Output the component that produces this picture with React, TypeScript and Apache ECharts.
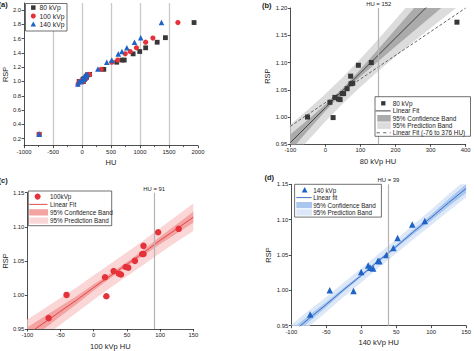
import React, { useEffect, useRef } from 'react';
import * as echarts from 'echarts';

const FONT = 'Arial, "Liberation Sans", Helvetica, sans-serif';
const FS_TICK = 5.9;
const FS_NAME = 7.5;

// ---------- Panel (a): all materials ----------
const a80: number[][] = [
  [-740, 0.26], [-51, 1.0], [22, 0.999], [13, 1.027], [27, 1.036], [37, 1.033], [42, 1.032],
  [48, 1.043], [52, 1.043], [62, 1.052], [73, 1.061], [78, 1.062], [72, 1.075], [94, 1.095],
  [131, 1.1], [375, 1.17], [598, 1.27], [688, 1.3], [728, 1.3], [881, 1.387], [995, 1.42],
  [1097, 1.472], [1296, 1.55], [1438, 1.614], [1932, 1.826],
];
const a100: number[][] = [
  [-740, 0.26], [-68, 0.966], [-41, 1.0], [19, 0.998], [17, 1.026], [30, 1.035], [38, 1.031],
  [41, 1.03], [48, 1.041], [52, 1.04], [62, 1.05], [73, 1.06], [75, 1.072], [97, 1.092],
  [128, 1.097], [330, 1.17], [513, 1.27], [615, 1.3], [745, 1.387], [830, 1.42], [938, 1.472],
  [1097, 1.55], [1222, 1.608], [1654, 1.826],
];
const a140: number[][] = [
  [-740, 0.26], [-73, 0.966], [-45, 1.0], [-11, 0.999], [0, 1.026], [10, 1.035], [13, 1.032],
  [17, 1.031], [24, 1.042], [26, 1.041], [36, 1.05], [46, 1.06], [52, 1.074], [73, 1.093],
  [91, 1.098], [274, 1.175], [427, 1.27], [513, 1.3], [625, 1.387], [688, 1.42], [773, 1.472],
  [904, 1.55], [1012, 1.614], [1370, 1.826],
];
const aYTicks = [0.2, 0.4, 0.6, 0.8, 1.0, 1.2, 1.4, 1.6, 1.8, 2.0];

// ---------- Panel (b): 80 kVp ----------
const b80: number[][] = [
  [-51, 1.0], [22, 0.999], [13, 1.027], [27, 1.036], [37, 1.033], [42, 1.032], [48, 1.043],
  [52, 1.043], [62, 1.052], [73, 1.061], [78, 1.062], [72, 1.075], [94, 1.095], [131, 1.1],
  [375, 1.174],
];
const bBandX = [-100, -50, 0, 50, 100, 150, 200, 250, 300, 350, 400];
const bFitY = [0.953, 0.985, 1.017, 1.049, 1.081, 1.113, 1.145, 1.177, 1.209, 1.241, 1.273];
const bConfHalf = [0.0148, 0.0102, 0.006, 0.0041, 0.0068, 0.0111, 0.0158, 0.0206, 0.0254, 0.0303, 0.0351];
const bPredHalf = [0.0328, 0.0283, 0.0253, 0.0243, 0.0257, 0.0291, 0.0339, 0.0395, 0.0458, 0.0524, 0.0592];
const bDashX = [-100, 400];
const bDashY = [0.983, 1.2];
const bCutoffHU = 152;

// ---------- Panel (c): 100 kVp ----------
const c100: number[][] = [
  [-68, 0.966], [-41, 1.0], [19, 0.998], [17, 1.026], [30, 1.035], [38, 1.031], [41, 1.03],
  [48, 1.041], [52, 1.04], [62, 1.05], [73, 1.06], [75, 1.06], [75, 1.072], [97, 1.092],
  [128, 1.097],
];
const cBandX = [-100, -75, -50, -25, 0, 25, 50, 75, 100, 125, 150];
const cFitY = [0.942, 0.959, 0.976, 0.993, 1.011, 1.028, 1.045, 1.062, 1.08, 1.097, 1.114];
const cConfHalf = [0.0106, 0.0089, 0.0073, 0.0058, 0.0045, 0.0036, 0.0034, 0.004, 0.0052, 0.0067, 0.0082];
const cPredHalf = [0.0219, 0.0206, 0.0195, 0.0186, 0.018, 0.0176, 0.0176, 0.0178, 0.0183, 0.0191, 0.0201];
const cCutoffHU = 91;

// ---------- Panel (d): 140 kVp ----------
const d140: number[][] = [
  [-73, 0.966], [-45, 1.0], [-11, 0.999], [0, 1.026], [10, 1.035], [13, 1.032], [17, 1.031],
  [24, 1.042], [26, 1.041], [36, 1.05], [46, 1.06], [52, 1.074], [73, 1.093], [91, 1.098],
];
const dBandX = [-100, -75, -50, -25, 0, 25, 50, 75, 100, 125, 150];
const dFitY = [0.939, 0.96, 0.98, 1.001, 1.021, 1.042, 1.062, 1.083, 1.103, 1.124, 1.144];
const dConfHalf = [0.0056, 0.0046, 0.0036, 0.0027, 0.002, 0.0019, 0.0023, 0.0032, 0.0041, 0.0051, 0.0062];
const dPredHalf = [0.0122, 0.0114, 0.0107, 0.0102, 0.0099, 0.0098, 0.01, 0.0104, 0.011, 0.0118, 0.0127];
const dCutoffHU = 39;

// ---------- colours ----------
const C_BLACK = '#383838';
const C_RED = '#e5323a';
const C_BLUE = '#1f63c6';

const zip = (xs: number[], ys: number[]) => xs.map((x, i) => [x, ys[i]]);

function xAx(grid: number, min: number, max: number, interval: number, name: string, gap: number, extra: any = {}) {
  return {
    type: 'value', gridIndex: grid, min, max, interval, name,
    nameLocation: 'middle', nameGap: gap,
    nameTextStyle: { fontSize: FS_NAME, color: '#222', fontFamily: FONT },
    axisLine: { show: true, onZero: false, lineStyle: { color: '#222', width: 0.8 } },
    axisTick: { show: true, length: 2.5, lineStyle: { color: '#222', width: 0.8 } },
    axisLabel: { fontSize: FS_TICK, color: '#222', margin: 3, fontFamily: FONT, formatter: (v: number) => String(v) },
    splitLine: { show: false },
    ...extra,
  };
}

function yAx(grid: number, min: number, max: number, interval: number, gap: number, digits: number, extra: any = {}) {
  return {
    type: 'value', gridIndex: grid, min, max, interval, name: 'RSP',
    nameLocation: 'middle', nameGap: gap, nameRotate: 90,
    nameTextStyle: { fontSize: FS_NAME, color: '#222', fontFamily: FONT },
    axisLine: { show: true, onZero: false, lineStyle: { color: '#222', width: 0.8 } },
    axisTick: { show: true, length: 2.5, lineStyle: { color: '#222', width: 0.8 } },
    axisLabel: { fontSize: FS_TICK, color: '#222', margin: 3, fontFamily: FONT, formatter: (v: number) => v.toFixed(digits) },
    splitLine: { show: false },
    ...extra,
  };
}

function band(idx: number, xs: number[], center: number[], half: number[], color: string, z: number) {
  return {
    type: 'custom', xAxisIndex: idx, yAxisIndex: idx, clip: true, silent: true, z,
    data: [[xs[0], center[0]]],
    renderItem: (_p: any, api: any) => {
      const up = xs.map((x, i) => api.coord([x, center[i] + half[i]]));
      const lo = xs.map((x, i) => api.coord([x, center[i] - half[i]])).reverse();
      return { type: 'polygon', shape: { points: up.concat(lo) }, style: { fill: color } };
    },
  };
}

function cutLine(hu: number) {
  return {
    silent: true, symbol: ['none', 'none'],
    lineStyle: { color: '#b4b4b4', width: 1.2, type: 'solid' },
    label: { show: true, position: 'end', formatter: 'HU = ' + hu, fontSize: 5.9, color: '#222', distance: 1, fontFamily: FONT },
    data: [{ xAxis: hu }],
  };
}

function txt(x: number, y: number, text: string, fs: number, extra: any = {}) {
  return {
    type: 'text', x, y, z: 100, silent: true,
    style: { text, fontSize: fs, fontFamily: FONT, fill: '#222', align: 'left', verticalAlign: 'middle', textAlign: 'left', textVerticalAlign: 'middle', ...extra },
  };
}
function box(x: number, y: number, w: number, h: number) {
  return { type: 'rect', z: 99, silent: true, shape: { x, y, width: w, height: h }, style: { fill: '#fff', stroke: '#333', lineWidth: 0.7 } };
}
function sq(cx: number, cy: number, s: number, color: string) {
  return { type: 'rect', z: 100, silent: true, shape: { x: cx - s / 2, y: cy - s / 2, width: s, height: s }, style: { fill: color } };
}
function circ(cx: number, cy: number, r: number, color: string) {
  return { type: 'circle', z: 100, silent: true, shape: { cx, cy, r }, style: { fill: color } };
}
function tri(cx: number, cy: number, s: number, color: string) {
  return { type: 'polygon', z: 100, silent: true, shape: { points: [[cx, cy - s * 0.55], [cx + s * 0.5, cy + s * 0.4], [cx - s * 0.5, cy + s * 0.4]] }, style: { fill: color } };
}
function seg(x1: number, x2: number, y: number, color: string, w: number, dash?: number[]) {
  return { type: 'line', z: 100, silent: true, shape: { x1, y1: y, x2, y2: y }, style: { stroke: color, lineWidth: w, lineDash: dash } };
}
function patch(x: number, y: number, w: number, h: number, color: string) {
  return { type: 'rect', z: 100, silent: true, shape: { x, y, width: w, height: h }, style: { fill: color } };
}

const B_PRED = '#dcdcdc', B_CONF = '#ababab';
const C_PRED = '#fbd6d6', C_CONF = '#f4a3a3';
const D_PRED = '#dce8f8', D_CONF = '#a9c6ee';

const option: any = {
  animation: false,
  backgroundColor: '#fff',
  textStyle: { fontFamily: FONT },
  grid: [
    { left: 22, top: 3, width: 176, height: 142.7 },
    { left: 290.3, top: 8, width: 175.4, height: 136.3 },
    { left: 23.3, top: 192.7, width: 170, height: 136.3 },
    { left: 291.3, top: 184.3, width: 175.7, height: 141.4 },
  ],
  xAxis: [
    xAx(0, -1000, 2000, 500, 'HU', 13, {
      minorTick: { show: true, splitNumber: 2, length: 1.5, lineStyle: { color: '#222', width: 0.7 } },
      splitLine: { show: true, showMinLine: false, showMaxLine: false, lineStyle: { color: '#c9c9c9', width: 1.3 } },
    }),
    xAx(1, -100, 400, 100, '80 kVp HU', 13),
    xAx(2, -100, 150, 50, '100 kVp HU', 13),
    xAx(3, -100, 150, 50, '140 kVp HU', 13),
  ],
  yAxis: [
    yAx(0, 0.1, 2.1, 0.2, 11, 1, {
      axisLabel: { fontSize: FS_TICK, color: '#222', margin: 3, fontFamily: FONT, customValues: aYTicks, formatter: (v: number) => v.toFixed(1) },
      axisTick: { show: true, length: 2.5, customValues: aYTicks, lineStyle: { color: '#222', width: 0.8 } },
    }),
    yAx(1, 0.95, 1.2, 0.05, 16, 2),
    yAx(2, 0.95, 1.15, 0.05, 14, 2),
    yAx(3, 0.95, 1.15, 0.05, 19, 2),
  ],
  series: [
    // (a)
    { type: 'scatter', name: '80 kVp', xAxisIndex: 0, yAxisIndex: 0, data: a80, symbol: 'rect', symbolSize: 4.8, itemStyle: { color: C_BLACK, opacity: 1 }, z: 4 },
    { type: 'scatter', name: '100 kVp', xAxisIndex: 0, yAxisIndex: 0, data: a100, symbol: 'circle', symbolSize: 5.2, itemStyle: { color: C_RED, opacity: 1 }, z: 5 },
    { type: 'scatter', name: '140 kVp', xAxisIndex: 0, yAxisIndex: 0, data: a140, symbol: 'triangle', symbolSize: 5.6, itemStyle: { color: C_BLUE, opacity: 1 }, z: 6 },

    // (b)
    band(1, bBandX, bFitY, bPredHalf, B_PRED, 1),
    band(1, bBandX, bFitY, bConfHalf, B_CONF, 2),
    { type: 'line', name: 'Linear Fit', xAxisIndex: 1, yAxisIndex: 1, data: zip(bBandX, bFitY), symbol: 'none', lineStyle: { color: '#333', width: 0.9 }, z: 3, markLine: cutLine(bCutoffHU) },
    { type: 'line', name: 'Linear Fit (-76 to 376 HU)', xAxisIndex: 1, yAxisIndex: 1, data: zip(bDashX, bDashY), symbol: 'none', lineStyle: { color: '#555', width: 0.9, type: [3, 2] }, z: 3 },
    { type: 'scatter', name: '80 kVp', xAxisIndex: 1, yAxisIndex: 1, data: b80, symbol: 'rect', symbolSize: 5, itemStyle: { color: C_BLACK, opacity: 1 }, z: 4 },

    // (c)
    band(2, cBandX, cFitY, cPredHalf, C_PRED, 1),
    band(2, cBandX, cFitY, cConfHalf, C_CONF, 2),
    { type: 'line', name: 'Linear Fit', xAxisIndex: 2, yAxisIndex: 2, data: zip(cBandX, cFitY), symbol: 'none', lineStyle: { color: '#e03a3a', width: 0.9 }, z: 3, markLine: cutLine(cCutoffHU) },
    { type: 'scatter', name: '100kVp', xAxisIndex: 2, yAxisIndex: 2, data: c100, symbol: 'circle', symbolSize: 6.5, itemStyle: { color: C_RED, opacity: 1 }, z: 4 },

    // (d)
    band(3, dBandX, dFitY, dPredHalf, D_PRED, 1),
    band(3, dBandX, dFitY, dConfHalf, D_CONF, 2),
    { type: 'line', name: 'Linear fit', xAxisIndex: 3, yAxisIndex: 3, data: zip(dBandX, dFitY), symbol: 'none', lineStyle: { color: '#2a62c4', width: 0.9 }, z: 3, markLine: cutLine(dCutoffHU) },
    { type: 'scatter', name: '140 kVp', xAxisIndex: 3, yAxisIndex: 3, data: d140, symbol: 'triangle', symbolSize: 6.5, itemStyle: { color: C_BLUE, opacity: 1 }, z: 4 },
  ],
  graphic: [
    // panel letters
    txt(-1.5, 4.5, '(a)', 7.5, { fontWeight: 'bold' }),
    txt(262, 5, '(b)', 7.5, { fontWeight: 'bold' }),
    txt(-1.5, 180, '(c)', 7.5, { fontWeight: 'bold' }),
    txt(264.5, 177.3, '(d)', 7.5, { fontWeight: 'bold' }),

    // legend (a)
    box(25.5, 3.5, 41.5, 27.5),
    sq(33.3, 7.6, 4.5, C_BLACK), txt(39.5, 7.6, '80 kVp', 6.8),
    circ(33.3, 16, 2.5, C_RED), txt(39.5, 16, '100 kVp', 6.8),
    tri(33.3, 24.4, 5.5, C_BLUE), txt(39.5, 24.4, '140 kVp', 6.8),

    // legend (b)
    box(375, 96.7, 95.5, 39.6),
    sq(383.3, 103.3, 4.3, C_BLACK), txt(392.7, 103.3, '80 kVp', 6.4),
    seg(375.5, 390.7, 110.9, '#333', 0.9), txt(392.7, 110.9, 'Linear Fit', 6.4),
    patch(377.3, 115, 13.4, 6.6, B_CONF), txt(392.7, 118.3, '95% Confidence Band', 6.4),
    patch(377.3, 122.3, 13.4, 6.6, B_PRED), txt(392.7, 125.6, '95% Prediction Band', 6.4),
    seg(376.5, 390.7, 132.8, '#555', 0.9, [3.3, 3.3]), txt(392.7, 132.8, 'Linear Fit (-76 to 376 HU)', 6.4),

    // legend (c)
    box(28.3, 191, 83.4, 34.7),
    circ(37.6, 196.6, 3, C_RED), txt(50, 196.6, '100kVp', 6.3),
    seg(29.2, 47.5, 204.4, '#e03a3a', 0.9), txt(50, 204.4, 'Linear Fit', 6.3),
    patch(29.2, 209.2, 18.8, 6.3, C_CONF), txt(50, 212.3, '95% Confidence Band', 6.3),
    patch(29.2, 217.4, 18.8, 6.3, C_PRED), txt(50, 220.6, '95% Prediction Band', 6.3),

    // legend (d)
    box(294.6, 184.3, 86.8, 32.8),
    tri(304.7, 190.2, 5.8, C_BLUE), txt(313.2, 190.2, '140 kVp', 6.3),
    seg(296.3, 311.6, 197.6, '#2a62c4', 0.9), txt(313.2, 197.6, 'Linear fit', 6.3),
    patch(296.3, 202, 15.8, 6.2, D_CONF), txt(313.2, 205, '95% Confidence Band', 6.3),
    patch(296.3, 209.3, 15.8, 6.2, D_PRED), txt(313.2, 212.4, '95% Prediction Band', 6.3),
  ],
};

export default function App() {
  const ref = useRef<HTMLDivElement>(null);
  useEffect(() => {
    if (!ref.current) return;
    const chart = echarts.init(ref.current, null, { renderer: 'svg' });
    chart.setOption(option);
    return () => chart.dispose();
  }, []);
  return (
    <div
      ref={ref}
      style={{ position: 'fixed', left: 0, top: 0, width: 474, height: 351, background: '#fff' }}
    />
  );
}
